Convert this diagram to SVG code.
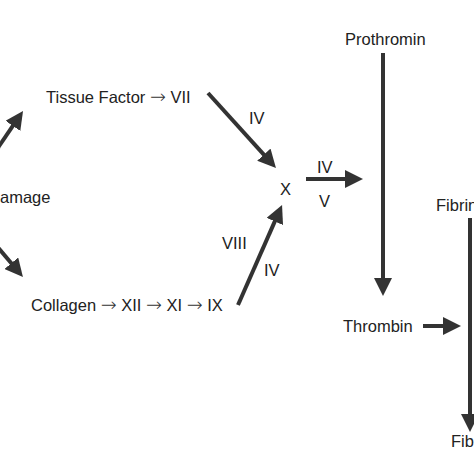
<svg xmlns="http://www.w3.org/2000/svg" width="474" height="474" viewBox="0 0 474 474">
<style>
.t{font-family:"Liberation Sans",Arial,sans-serif;font-size:16.5px;fill:#222}
.a{font-family:"DejaVu Sans",sans-serif;font-size:19px;font-weight:200;fill:#333}
.c{stroke:#333;stroke-width:4;fill:none;marker-end:url(#ah)}
</style>
<defs>
<marker id="ah" markerUnits="userSpaceOnUse" markerWidth="18" markerHeight="18" refX="2" refY="9" orient="auto">
<path d="M0,0 L18,9 L0,18 z" fill="#333"/>
</marker>
</defs>
<rect width="474" height="474" fill="#fff"/>
<g id="connectors">
<line class="c" x1="-5" y1="152" x2="14" y2="124.2"/>
<line class="c" x1="-5" y1="244" x2="12.6" y2="264.8"/>
<line class="c" x1="208" y1="93" x2="265.2" y2="156.1"/>
<line class="c" x1="238" y1="305" x2="275.6" y2="219.6"/>
<line class="c" x1="306" y1="179" x2="347" y2="179"/>
<line class="c" x1="383" y1="53" x2="383" y2="280"/>
<line class="c" x1="423" y1="326" x2="445" y2="326"/>
<line class="c" x1="470" y1="218" x2="470" y2="416"/>
</g>
<g id="labels">
<text class="t" x="249" y="124">IV</text>
<text class="t" x="222" y="249">VIII</text>
<text class="t" x="264" y="276">IV</text>
<text class="t" x="317" y="173">IV</text>
<text class="t" x="319" y="207">V</text>
</g>
<g id="damage"><text class="t" x="0" y="203">amage</text></g>
<g id="tissue-factor"><text class="t" x="46" y="103">Tissue Factor <tspan class="a">→</tspan> VII</text></g>
<g id="collagen"><text class="t" x="31" y="311">Collagen <tspan class="a">→</tspan> XII <tspan class="a">→</tspan> XI <tspan class="a">→</tspan> IX</text></g>
<g id="x"><text class="t" x="285.5" y="195" text-anchor="middle">X</text></g>
<g id="prothromin"><text class="t" x="345" y="45">Prothromin</text></g>
<g id="thrombin"><text class="t" x="343" y="332">Thrombin</text></g>
<g id="fibrin-top"><text class="t" x="436" y="211">Fibrin</text></g>
<g id="fibrin-bottom"><text class="t" x="451" y="447">Fib</text></g>
</svg>
